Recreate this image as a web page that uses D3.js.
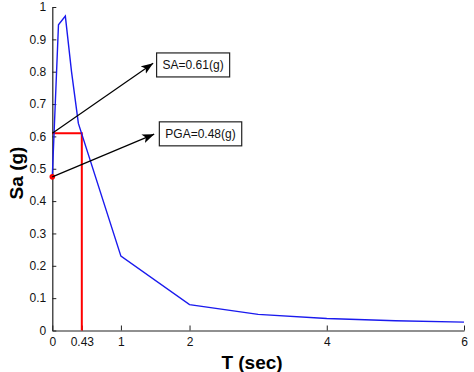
<!DOCTYPE html>
<html>
<head>
<meta charset="utf-8">
<script src="https://cdn.jsdelivr.net/npm/d3@7"></script>
<style>
  body { margin: 0; background: #fff; }
  svg { display: block; }
  text { font-family: "Liberation Sans", Arial, sans-serif; }
</style>
</head>
<body>
<script>
// response spectrum
const periods = [0, 0.09, 0.19, 0.28, 0.38, 1, 2, 3, 4, 5, 6];
const sa = [0.475, 0.945, 0.972, 0.80, 0.64, 0.23, 0.08, 0.05, 0.037, 0.03, 0.026];
const xTicks = [0, 0.43, 1, 2, 4, 6];
const yTicks = [0, 0.1, 0.2, 0.3, 0.4, 0.5, 0.6, 0.7, 0.8, 0.9, 1];
const saPeriod = 0.43, saValue = 0.61, pga = 0.475;
const notes = [
  { label: 'SA=0.61(g)', from: [0, saValue], tip: [1.47, 0.826], box: [1.52, 0.858] },
  { label: 'PGA=0.48(g)', from: [0, pga], tip: [1.485, 0.607], box: [1.56, 0.645] }
];

const width = 474, height = 372;
const margin = { top: 7, right: 10, bottom: 41.5, left: 52.3 };

const svg = d3.select('body').append('svg')
  .attr('width', width).attr('height', height);

const x = d3.scaleLinear().domain([0, 6]).range([margin.left, width - margin.right]);
const y = d3.scaleLinear().domain([0, 1]).range([height - margin.bottom, margin.top]);

const defs = svg.append('defs');
defs.append('marker')
  .attr('id', 'arrow')
  .attr('viewBox', '0 -5 12 10')
  .attr('refX', 12).attr('refY', 0)
  .attr('markerWidth', 12).attr('markerHeight', 10)
  .attr('markerUnits', 'userSpaceOnUse')
  .attr('orient', 'auto')
  .append('path')
  .attr('d', 'M0,-4.5 L12,0 L0,4.5 L3,0 Z')
  .style('fill', '#000');

// axes, ticks pointing inward like matlab
const xAxis = svg.append('g')
  .attr('transform', `translate(0,${y(0)})`)
  .call(d3.axisBottom(x).tickValues(xTicks).tickSizeInner(-5).tickSizeOuter(0).tickPadding(7)
    .tickFormat(d => d === 0.43 ? '0.43' : d3.format('~g')(d)));

const yAxis = svg.append('g')
  .attr('transform', `translate(${x(0)},0)`)
  .call(d3.axisLeft(y).tickValues(yTicks).tickSizeInner(-4).tickSizeOuter(0).tickPadding(6)
    .tickFormat(d3.format('~g')));

[xAxis, yAxis].forEach(a => {
  a.select('.domain').style('stroke', '#222').style('stroke-width', 1.2);
  a.selectAll('.tick line').style('stroke', '#222');
  a.selectAll('.tick text').style('font-size', '12px').style('fill', '#111')
    .style('font-family', '"Liberation Sans", Arial, sans-serif');
});

// red SA guide
svg.append('path')
  .attr('d', `M${x(0)},${y(saValue)} L${x(saPeriod)},${y(saValue)} L${x(saPeriod)},${y(0)}`)
  .style('fill', 'none')
  .style('stroke', '#ff0000')
  .style('stroke-width', 2);

// spectrum
svg.append('path')
  .datum(periods.map((t, i) => [t, sa[i]]))
  .attr('d', d3.line().x(d => x(d[0])).y(d => y(d[1])))
  .style('fill', 'none')
  .style('stroke', '#1a1aee')
  .style('stroke-width', 1.4);

svg.append('circle')
  .attr('cx', x(0)).attr('cy', y(pga)).attr('r', 2.8)
  .style('fill', '#ff0000');

// annotations
const note = svg.append('g').selectAll('g').data(notes).enter().append('g');

note.append('line')
  .attr('x1', d => x(d.from[0])).attr('y1', d => y(d.from[1]))
  .attr('x2', d => x(d.tip[0])).attr('y2', d => y(d.tip[1]))
  .style('stroke', '#000').style('stroke-width', 1.2)
  .attr('marker-end', 'url(#arrow)');

note.append('text')
  .attr('x', d => x(d.box[0]) + 6)
  .attr('y', d => y(d.box[1]) + 12)
  .attr('dy', '0.35em')
  .style('font-size', '12px')
  .style('fill', '#111')
  .text(d => d.label);

note.each(function () {
  let g = d3.select(this),
    b = g.select('text').node().getBBox();
  g.insert('rect', 'text')
    .attr('x', b.x - 6).attr('y', y(g.datum().box[1]))
    .attr('width', b.width + 12).attr('height', 24)
    .style('fill', '#fff').style('stroke', '#222').style('stroke-width', 1.2);
});

// axis titles
svg.append('text')
  .attr('x', 252).attr('y', 362).attr('dy', '0.35em')
  .attr('text-anchor', 'middle')
  .style('font-size', '19px').style('font-weight', 'bold')
  .text('T (sec)');

svg.append('text')
  .attr('transform', 'translate(16,173) rotate(-90)')
  .attr('dy', '0.35em')
  .attr('text-anchor', 'middle')
  .style('font-size', '19px').style('font-weight', 'bold')
  .text('Sa (g)');
</script>
</body>
</html>
